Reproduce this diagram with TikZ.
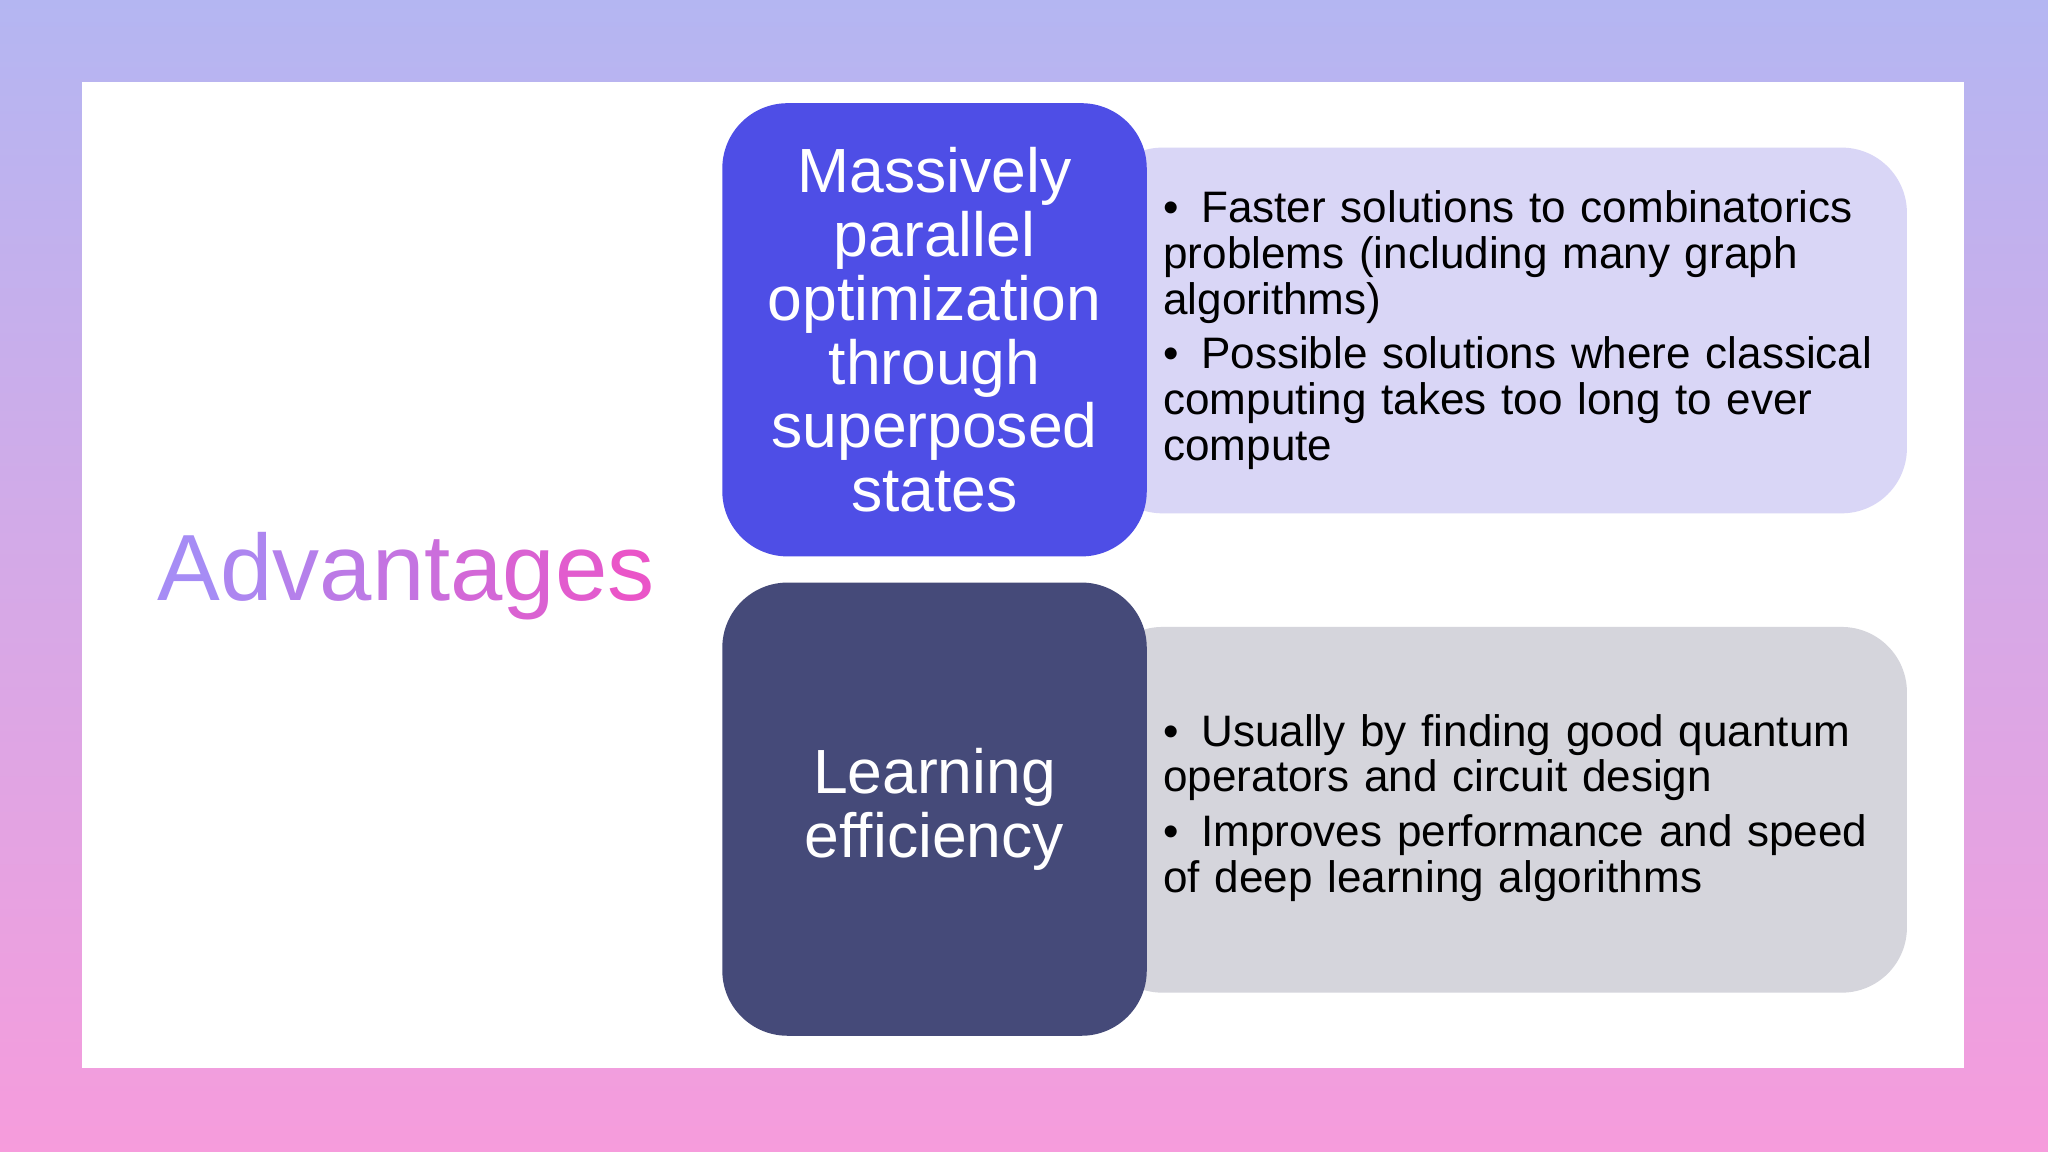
\documentclass[tikz,border=0pt]{standalone}
\usepackage{fontspec}
\setmainfont{Liberation Sans}
\begin{document}
\begin{tikzpicture}[x=0.1mm,y=-0.1mm,
  bl/.style={anchor=north west,inner sep=0pt,text width=55mm,align=left,font=\fontsize{9.6}{10}\selectfont},
  bigbox/.style={rounded corners=5mm,minimum width=32.5mm,minimum height=34.7mm,inner sep=0pt,text=white,align=center,text width=31mm,font=\fontsize{13.6}{13.9}\selectfont},
  sidebox/.style={inner sep=0pt}]
\definecolor{gA}{HTML}{B4B6F2}\definecolor{gB}{HTML}{F69CDC}
\definecolor{blueb}{HTML}{4E4EE6}\definecolor{lav}{HTML}{D9D6F6}
\definecolor{darkb}{HTML}{454A79}\definecolor{greyb}{HTML}{D5D5DC}
\definecolor{tA}{HTML}{A68CF5}\definecolor{tB}{HTML}{EA55C8}
\useasboundingbox (0,0) rectangle (1568,882);
\shade[left color=gA,right color=gB,shading angle=0] (0,0) rectangle (1568,882);
\path[bottom color=gB,top color=gA,opacity=0.5] (0,0) rectangle (1568,882);
\fill[white] (63,63) rectangle (1504,818);
\node[anchor=base west,inner sep=0pt,font=\fontsize{20.5}{24}\selectfont] (adv) at (120,460)
 {\textcolor{tA}{A}\textcolor{tB!11!tA}{d}\textcolor{tB!22!tA}{v}\textcolor{tB!33!tA}{a}\textcolor{tB!44!tA}{n}\textcolor{tB!55!tA}{t}\textcolor{tB!66!tA}{a}\textcolor{tB!77!tA}{g}\textcolor{tB!88!tA}{e}\textcolor{tB}{s}};
% side boxes
\fill[lav,rounded corners=5mm] (840,113) -- (1460,113) -- (1460,393) -- (840,393) -- cycle;
\node[sidebox] (s1) at (1150,253) {};
\fill[greyb,rounded corners=5mm] (840,480) -- (1460,480) -- (1460,760) -- (840,760) -- cycle;
\node[sidebox] (s2) at (1150,620) {};
% main boxes
\node[bigbox,fill=blueb] (b1) at (715.5,252.5) {Massively parallel optimization through superposed states};
\node[bigbox,fill=darkb] (b2) at (715.5,619.5) {Learning efficiency};
% bullets
\newcommand{\bitem}[1]{\hangindent=2.9mm\hangafter=1\noindent\makebox[2.9mm][l]{\textbullet}#1}
\node[bl] (t1) at (890,145) {\bitem{Faster solutions to combinatorics problems (including many graph algorithms)}};
\node[bl] (t2) at (890,257) {\bitem{Possible solutions where classical computing takes too long to ever compute}};
\node[bl] (t3) at (890,546) {\bitem{Usually by finding good quantum operators and circuit design}};
\node[bl] (t4) at (890,623) {\bitem{Improves performance and speed of deep learning algorithms}};
\end{tikzpicture}
\end{document}
